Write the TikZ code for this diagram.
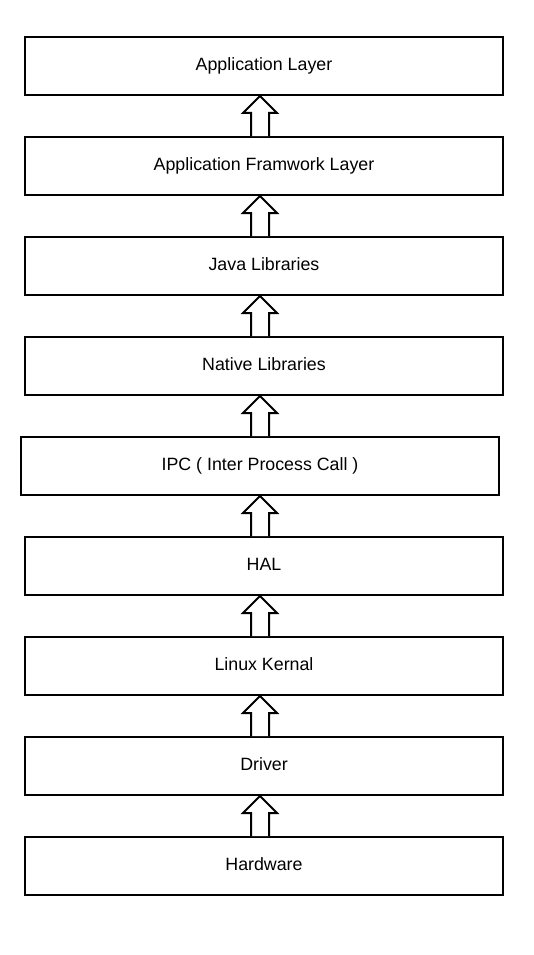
\documentclass[tikz,border=0pt]{standalone}
\usepackage{fontspec}
\setmainfont{Liberation Sans}
\usetikzlibrary{calc}
\begin{document}
\begin{tikzpicture}[x=1pt,y=-1pt,
  layer/.style={draw=black,line width=2pt,fill=white,minimum width=478pt,minimum height=58pt,inner sep=0pt,text height=13pt,text depth=4pt,font=\fontsize{17.8pt}{20pt}\selectfont},
  blockarrow/.style={draw=black,line width=2pt,fill=white,line join=miter}]
\useasboundingbox (0,0) rectangle (533,955);
\node[layer] (app) at (264,66) {Application Layer};
\node[layer] (fw) at (264,166) {Application Framwork Layer};
\node[layer] (java) at (264,266) {Java Libraries};
\node[layer] (native) at (264,366) {Native Libraries};
\node[layer] (ipc) at (260,466) {IPC ( Inter Process Call )};
\node[layer] (hal) at (264,566) {HAL};
\node[layer] (kern) at (264,666) {Linux Kernal};
\node[layer] (drv) at (264,766) {Driver};
\node[layer] (hw) at (264,866) {Hardware};
\coordinate (ax) at (260,0);
\foreach \lo/\hi in {fw/app,java/fw,native/java,ipc/native,hal/ipc,kern/hal,drv/kern,hw/drv}{
  \draw[blockarrow] ($(\lo.north -| ax)+(-9,0)$) -- ($(\hi.south -| ax)+(-9,17)$)
    -- ($(\hi.south -| ax)+(-17,17)$) -- (\hi.south -| ax) -- ($(\hi.south -| ax)+(17,17)$)
    -- ($(\hi.south -| ax)+(9,17)$) -- ($(\lo.north -| ax)+(9,0)$);
}
\end{tikzpicture}
\end{document}
